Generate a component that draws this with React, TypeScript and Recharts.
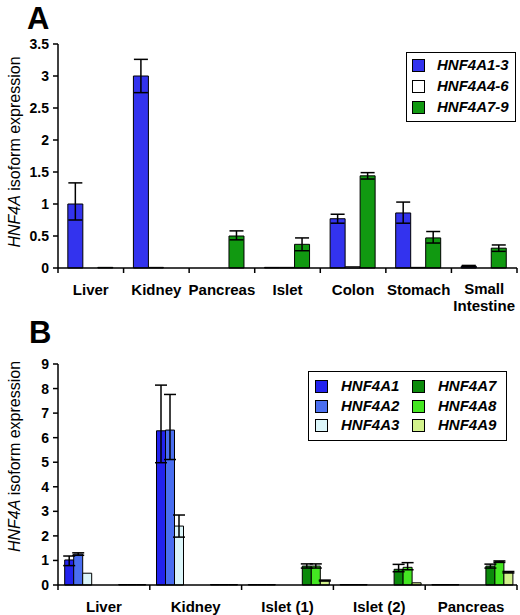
import React from 'react';
import { BarChart, Bar, XAxis, YAxis, ErrorBar, Label } from 'recharts';

// ---------- Panel A data ----------
const categoriesA = ['Liver', 'Kidney', 'Pancreas', 'Islet', 'Colon', 'Stomach', 'Small\nIntestine'];
const a13 = [1.0, 3.0, 0, 0.01, 0.77, 0.86, 0.03];
const a13Err: (number[] | null)[] = [[0.25, 0.33], [0.26, 0.26], null, null, [0.07, 0.07], [0.16, 0.17], [0.01, 0.01]];
const a46 = [0, 0.01, 0, 0.01, 0.02, 0.01, 0];
const a79 = [0.01, 0, 0.5, 0.37, 1.44, 0.47, 0.31];
const a79Err: (number[] | null)[] = [null, null, [0.06, 0.08], [0.1, 0.1], [0.05, 0.05], [0.08, 0.1], [0.05, 0.05]];
const ticksA = [0, 0.5, 1, 1.5, 2, 2.5, 3, 3.5];

// ---------- Panel B data ----------
const categoriesB = ['Liver', 'Kidney', 'Islet (1)', 'Islet (2)', 'Pancreas'];
const b1 = [1.02, 6.28, 0.02, 0.02, 0.02];
const b1Err: (number[] | null)[] = [[0.23, 0.16], [1.3, 1.86], null, null, null];
const b2 = [1.26, 6.31, 0.02, 0.02, 0.02];
const b2Err: (number[] | null)[] = [[0.05, 0.05], [1.2, 1.45], null, null, null];
const b3 = [0.48, 2.4, 0.02, 0.02, 0.02];
const b3Err: (number[] | null)[] = [null, [0.45, 0.45], null, null, null];
const b4 = [0, 0, 0, 0, 0];
const b5 = [0, 0, 0, 0, 0];
const b6 = [0, 0, 0, 0, 0];
const b7 = [0.02, 0.02, 0.77, 0.64, 0.77];
const b7Err: (number[] | null)[] = [null, null, [0.08, 0.09], [0.1, 0.2], [0.08, 0.08]];
const b8 = [0.02, 0.02, 0.77, 0.72, 0.95];
const b8Err: (number[] | null)[] = [null, null, [0.08, 0.09], [0.1, 0.19], [0.03, 0.03]];
const b9 = [0.02, 0.02, 0.18, 0.09, 0.52];
const b9Err: (number[] | null)[] = [null, null, [0.02, 0.02], null, [0.03, 0.03]];
const ticksB = [0, 1, 2, 3, 4, 5, 6, 7, 8, 9];

const legendA = [
  { name: 'HNF4A1-3', color: '#3333ee' },
  { name: 'HNF4A4-6', color: '#ffffff' },
  { name: 'HNF4A7-9', color: '#119911' },
];
const legendB = [
  { name: 'HNF4A1', color: '#2222ee' },
  { name: 'HNF4A2', color: '#4a6ef0' },
  { name: 'HNF4A3', color: '#dcf6fa' },
  { name: 'HNF4A7', color: '#0b8a0b' },
  { name: 'HNF4A8', color: '#44e622' },
  { name: 'HNF4A9', color: '#d2f28c' },
];

const FONT = '"Liberation Sans", Arial, sans-serif';

const dataA = categoriesA.map((c, i) => ({
  name: c, a13: a13[i], a13Err: a13Err[i], a46: a46[i], a79: a79[i], a79Err: a79Err[i],
}));
const dataB = categoriesB.map((c, i) => ({
  name: c, b1: b1[i], b1Err: b1Err[i], b2: b2[i], b2Err: b2Err[i], b3: b3[i], b3Err: b3Err[i],
  b4: b4[i], b5: b5[i], b6: b6[i],
  b7: b7[i], b7Err: b7Err[i], b8: b8[i], b8Err: b8Err[i], b9: b9[i], b9Err: b9Err[i],
}));

const CHART_W = 520;
const Y_W = 58;
const M_RIGHT = 3;
const PLOT_W = CHART_W - Y_W - M_RIGHT;

const makeTick = (band: number, count: number) => (props: any) => {
  const { x, y, payload, index } = props;
  const lines = String(payload.value).split('\n');
  return (
    <g>
      <line x1={x - band / 2} x2={x - band / 2} y1={y - 5} y2={y} stroke="#000" strokeWidth={1.5} />
      {index === count - 1 && (
        <line x1={x + band / 2} x2={x + band / 2} y1={y - 5} y2={y} stroke="#000" strokeWidth={1.5} />
      )}
      {lines.map((l, i) => (
        <text key={i} x={x} y={y + (lines.length > 1 ? 21 : 22) + i * 17} textAnchor="middle" fontFamily={FONT} fontWeight="bold" fontSize={15} fill="#000">
          {l}
        </text>
      ))}
    </g>
  );
};

const yLabel = (dy: number) => (props: any) => {
  const vb = props.viewBox || {};
  const cx = vb.x + 14;
  const cy = vb.y + vb.height / 2 + dy;
  return (
    <text x={cx} y={cy} transform={`rotate(-90, ${cx}, ${cy})`} textAnchor="middle" dominantBaseline="central"
      fontFamily={FONT} fontSize={16} fill="#000">
      <tspan fontStyle="italic">HNF4A</tspan> isoform expression
    </text>
  );
};

const errProps = { stroke: '#000', strokeWidth: 1.5, direction: 'y' as const };
const barStroke = { stroke: '#000', strokeWidth: 1, isAnimationActive: false };

const Swatch = ({ color, left, top }: { color: string; left: number; top: number }) => (
  <div style={{ position: 'absolute', left, top, width: 11, height: 11, background: color, border: '1px solid #000' }} />
);
const LegText = ({ text, left, top }: { text: string; left: number; top: number }) => (
  <div style={{ position: 'absolute', left, top, fontFamily: FONT, fontSize: 15, fontWeight: 'bold', fontStyle: 'italic', lineHeight: '18px', whiteSpace: 'nowrap', color: '#000' }}>{text}</div>
);

export default function App() {
  const bandA = PLOT_W / categoriesA.length;
  const bandB = PLOT_W / categoriesB.length;
  return (
    <div style={{ position: 'absolute', left: 0, top: 0, width: 520, height: 615, background: '#fff', fontFamily: FONT }}>
      {/* Panel A */}
      <div style={{ position: 'absolute', left: 0, top: 0 }}>
        <BarChart width={CHART_W} height={315} data={dataA} margin={{ top: 44, right: M_RIGHT, left: 0, bottom: 0 }}
          barCategoryGap="15%" barGap={0}>
          <XAxis dataKey="name" height={47} interval={0} tickLine={false} tickSize={5} tickMargin={0}
            axisLine={{ stroke: '#000', strokeWidth: 1.5 }} tick={makeTick(bandA, categoriesA.length)} />
          <YAxis width={Y_W} domain={[0, 3.5]} ticks={ticksA} interval={0} tickSize={5} tickMargin={4}
            axisLine={{ stroke: '#000', strokeWidth: 1.5 }} tickLine={{ stroke: '#000', strokeWidth: 1.5 }}
            tick={{ fill: '#000', fontSize: 14, fontWeight: 'bold', fontFamily: FONT }}>
            <Label content={yLabel(-4)} />
          </YAxis>
          <Bar dataKey="a13" fill={legendA[0].color} {...barStroke}>
            <ErrorBar dataKey="a13Err" width={7} {...errProps} />
          </Bar>
          <Bar dataKey="a46" fill={legendA[1].color} {...barStroke} />
          <Bar dataKey="a79" fill={legendA[2].color} {...barStroke}>
            <ErrorBar dataKey="a79Err" width={7} {...errProps} />
          </Bar>
        </BarChart>
      </div>
      {/* Panel B */}
      <div style={{ position: 'absolute', left: 0, top: 315 }}>
        <BarChart width={CHART_W} height={300} data={dataB} margin={{ top: 49, right: M_RIGHT, left: 0, bottom: 0 }}
          barCategoryGap="7.3%" barGap={0}>
          <XAxis dataKey="name" height={30} interval={0} tickLine={false} tickSize={5} tickMargin={0}
            axisLine={{ stroke: '#000', strokeWidth: 1.5 }} tick={makeTick(bandB, categoriesB.length)} />
          <YAxis width={Y_W} domain={[0, 9]} ticks={ticksB} interval={0} tickSize={5} tickMargin={4}
            axisLine={{ stroke: '#000', strokeWidth: 1.5 }} tickLine={{ stroke: '#000', strokeWidth: 1.5 }}
            tick={{ fill: '#000', fontSize: 14, fontWeight: 'bold', fontFamily: FONT }}>
            <Label content={yLabel(-18)} />
          </YAxis>
          <Bar dataKey="b1" fill={legendB[0].color} {...barStroke}>
            <ErrorBar dataKey="b1Err" width={6} {...errProps} />
          </Bar>
          <Bar dataKey="b2" fill={legendB[1].color} {...barStroke}>
            <ErrorBar dataKey="b2Err" width={6} {...errProps} />
          </Bar>
          <Bar dataKey="b3" fill={legendB[2].color} {...barStroke}>
            <ErrorBar dataKey="b3Err" width={6} {...errProps} />
          </Bar>
          <Bar dataKey="b4" fill="#fff" {...barStroke} />
          <Bar dataKey="b5" fill="#fff" {...barStroke} />
          <Bar dataKey="b6" fill="#fff" {...barStroke} />
          <Bar dataKey="b7" fill={legendB[3].color} {...barStroke}>
            <ErrorBar dataKey="b7Err" width={6} {...errProps} />
          </Bar>
          <Bar dataKey="b8" fill={legendB[4].color} {...barStroke}>
            <ErrorBar dataKey="b8Err" width={6} {...errProps} />
          </Bar>
          <Bar dataKey="b9" fill={legendB[5].color} {...barStroke}>
            <ErrorBar dataKey="b9Err" width={6} {...errProps} />
          </Bar>
        </BarChart>
      </div>

      {/* Panel letters */}
      <div style={{ position: 'absolute', left: 27, top: 2, fontSize: 31, fontWeight: 'bold', lineHeight: '34px', fontFamily: FONT }}>A</div>
      <div style={{ position: 'absolute', left: 29, top: 316, fontSize: 31, fontWeight: 'bold', lineHeight: '34px', fontFamily: FONT }}>B</div>

      {/* Legend A */}
      <div style={{ position: 'absolute', left: 406, top: 52, width: 108, height: 68, border: '1.5px solid #000', background: '#fff' }}>
        {legendA.map((d, i) => (
          <React.Fragment key={d.name}>
            <Swatch color={d.color} left={5} top={6 + i * 21} />
            <LegText text={d.name} left={30} top={3 + i * 21} />
          </React.Fragment>
        ))}
      </div>

      {/* Legend B */}
      <div style={{ position: 'absolute', left: 308, top: 371, width: 197, height: 68, border: '1.5px solid #000', background: '#fff' }}>
        {legendB.map((d, i) => {
          const col = Math.floor(i / 3);
          const row = i % 3;
          return (
            <React.Fragment key={d.name}>
              <Swatch color={d.color} left={6 + col * 97} top={8 + row * 19.5} />
              <LegText text={d.name} left={32 + col * 97} top={5 + row * 19.5} />
            </React.Fragment>
          );
        })}
      </div>
    </div>
  );
}
